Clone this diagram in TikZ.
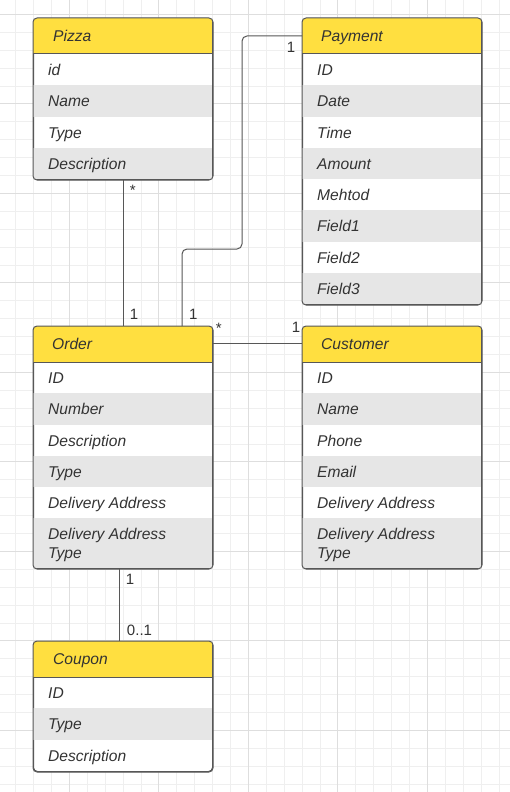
\documentclass[tikz,border=0pt]{standalone}
\usepackage{fontspec}
\setmainfont{Liberation Sans}
\usetikzlibrary{calc}
\definecolor{hdr}{HTML}{FFDF40}
\definecolor{alt}{HTML}{E6E6E6}
\definecolor{ink}{HTML}{333333}
\definecolor{edge}{HTML}{575757}
\definecolor{gridminor}{HTML}{EFEFEF}
\definecolor{gridmajor}{HTML}{DEDEDE}
\tikzset{
  frame/.style={draw=edge, line width=1pt, fill=white, rounded corners=4pt, minimum width=179pt, inner sep=0pt, anchor=north west},
  title/.style={font=\fontsize{15.6}{18}\selectfont\itshape, text=ink, anchor=base west, inner sep=0pt},
  field/.style={font=\fontsize{15.6}{19.7}\selectfont\itshape, text=ink, anchor=base west, inner sep=0pt},
  mult/.style={font=\fontsize{15}{18}\selectfont, text=ink, inner sep=0pt, anchor=base},
  conn/.style={draw=edge, line width=1pt},
  border/.style={draw=edge, line width=1pt, rounded corners=4pt},
}
% #1 name, #2 x, #3 y, #4 height
\newcommand\classframe[4]{%
  \node[frame, minimum height=#4pt] (#1) at (#2,#3) {};
}
\begin{document}
\begin{tikzpicture}[x=1pt,y=-1pt]
\fill[white] (0,0) rectangle (510,792);
\useasboundingbox (0,0) rectangle (510,792);
% grid
\foreach \k in {-4,...,25} {\pgfmathsetmacro\xx{69.3+17.9*\k}\draw[gridminor, line width=0.8pt] (\xx,0) -- (\xx,792);}
\foreach \k in {-1,...,44} {\pgfmathsetmacro\yy{14.3+17.9*\k}\draw[gridminor, line width=0.8pt] (0,\yy) -- (510,\yy);}
\foreach \k in {-1,...,5} {\pgfmathsetmacro\xx{69.3+89.5*\k}\draw[gridmajor, line width=0.8pt] (\xx,0) -- (\xx,792);}
\foreach \k in {-1,...,8} {\pgfmathsetmacro\yy{14.3+89.5*\k}\draw[gridmajor, line width=0.8pt] (0,\yy) -- (510,\yy);}

% ---------- Pizza ----------
\classframe{pizza}{33}{18}{161}
\begin{scope}
  \clip[rounded corners=4pt] (pizza.north west) rectangle (pizza.south east);
  \fill[hdr] (33,18) rectangle (212,54);
  \fill[alt] (33,85.25) rectangle (212,116.5);
  \fill[alt] (33,147.75) rectangle (212,179);
\end{scope}
\draw[border] (pizza.north west) rectangle (pizza.south east);
\draw[edge, line width=1pt] (33,54) -- (212,54);
\node[title] (pizzat) at (53,41.5) {Pizza};
\node[field] (pizza1) at (48,75.6) {id};
\node[field] (pizza2) at (48,106.9) {Name};
\node[field] (pizza3) at (48,138.1) {Type};
\node[field] (pizza4) at (48,169.4) {Description};

% ---------- Payment ----------
\classframe{payment}{302}{18}{286}
\begin{scope}
  \clip[rounded corners=4pt] (payment.north west) rectangle (payment.south east);
  \fill[hdr] (302,18) rectangle (481,54);
  \foreach \i in {1,3,5,7} {\fill[alt] (302,54+31.25*\i) rectangle (481,85.25+31.25*\i);}
\end{scope}
\draw[border] (payment.north west) rectangle (payment.south east);
\draw[edge, line width=1pt] (302,54) -- (481,54);
\node[title] (paymentt) at (321,41.5) {Payment};
\foreach \t [count=\i from 0] in {ID,Date,Time,Amount,Mehtod,Field1,Field2,Field3}
  {\node[field] (payment\i) at (317,75.6+31.25*\i) {\t};}

% ---------- Order ----------
\classframe{order}{33}{326}{242}
\begin{scope}
  \clip[rounded corners=4pt] (order.north west) rectangle (order.south east);
  \fill[hdr] (33,326) rectangle (212,362);
  \fill[alt] (33,393.25) rectangle (212,424.5);
  \fill[alt] (33,455.75) rectangle (212,487);
  \fill[alt] (33,518.25) rectangle (212,568);
\end{scope}
\draw[border] (order.north west) rectangle (order.south east);
\draw[edge, line width=1pt] (33,362) -- (212,362);
\node[title] (ordert) at (52,349.5) {Order};
\foreach \t [count=\i from 0] in {ID,Number,Description,Type,Delivery Address}
  {\node[field] (order\i) at (48,383.6+31.25*\i) {\t};}
\node[field] (order5) at (48,539) {Delivery Address};
\node[field] (order6) at (48,558.7) {Type};

% ---------- Customer ----------
\classframe{customer}{302}{326}{242}
\begin{scope}
  \clip[rounded corners=4pt] (customer.north west) rectangle (customer.south east);
  \fill[hdr] (302,326) rectangle (481,362);
  \fill[alt] (302,393.25) rectangle (481,424.5);
  \fill[alt] (302,455.75) rectangle (481,487);
  \fill[alt] (302,518.25) rectangle (481,568);
\end{scope}
\draw[border] (customer.north west) rectangle (customer.south east);
\draw[edge, line width=1pt] (302,362) -- (481,362);
\node[title] (customert) at (321,349.5) {Customer};
\foreach \t [count=\i from 0] in {ID,Name,Phone,Email,Delivery Address}
  {\node[field] (customer\i) at (317,383.6+31.25*\i) {\t};}
\node[field] (customer5) at (317,539) {Delivery Address};
\node[field] (customer6) at (317,558.7) {Type};

% ---------- Coupon ----------
\classframe{coupon}{33}{641}{130}
\begin{scope}
  \clip[rounded corners=4pt] (coupon.north west) rectangle (coupon.south east);
  \fill[hdr] (33,641) rectangle (212,677);
  \fill[alt] (33,708.25) rectangle (212,739.5);
\end{scope}
\draw[border] (coupon.north west) rectangle (coupon.south east);
\draw[edge, line width=1pt] (33,677) -- (212,677);
\node[title] (coupont) at (53,664.5) {Coupon};
\node[field] (coupon0) at (48,698.6) {ID};
\node[field] (coupon1) at (48,729.9) {Type};
\node[field] (coupon2) at (48,761.1) {Description};

% ---------- connectors ----------
\draw[conn] (pizza.south) -- (order.north);
\coordinate (payin) at ($(payment.north west)+(0,18)$);
\coordinate (paybend) at ($(payment.north west)+(-60,231)$);
\coordinate (ordpay) at ($(order.north west)+(149,0)$);
\draw[conn, rounded corners=5pt] (payin) -| (paybend) -| (ordpay);
\draw[conn] ($(order.north east)+(0,17.3)$) -- ($(customer.north west)+(0,17.3)$);
\draw[conn] ($(order.south)+(-3.5,0)$) -- ($(coupon.north)+(-3.5,0)$);

% ---------- multiplicities ----------
\node[mult] (m1) at (132.7,195.4) {*};
\node[mult] (m2) at (134,319.4) {1};
\node[mult] (m3) at (291,52.4) {1};
\node[mult] (m4) at (193.3,319.4) {1};
\node[mult] (m5) at (218.7,333.2) {*};
\node[mult] (m6) at (296,332.1) {1};
\node[mult] (m7) at (130,584.4) {1};
\node[mult] (m8) at (139.5,635.4) {0..1};
\end{tikzpicture}
\end{document}
